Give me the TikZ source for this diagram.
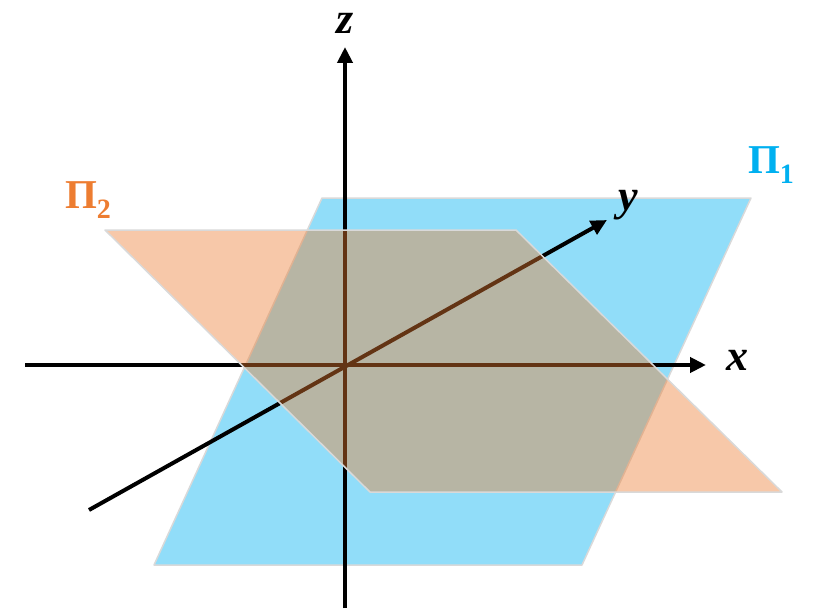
\documentclass[tikz,border=0pt]{standalone}
\usepackage{fontspec}
\setmainfont{Liberation Serif}
\usetikzlibrary{arrows.meta}
\definecolor{piblue}{HTML}{00B0F0}
\definecolor{piorange}{HTML}{ED7D31}
\definecolor{edgegray}{HTML}{D9D9D9}
\newcommand{\planename}[1]{\textbf{Π\raisebox{-0.24em}{\fontsize{28}{28}\selectfont #1}}}

\begin{document}
\begin{tikzpicture}[x=1pt,y=-1pt,
		axis/.style={line width=4pt,-{Triangle[length=16pt,width=15pt]}},
		plane/.style={draw=edgegray,line width=1.5pt,line join=round},
		axlabel/.style={font=\fontsize{44}{44}\selectfont\bfseries\itshape,inner sep=0pt},
		pilabel/.style={font=\fontsize{41}{41}\selectfont,inner sep=0pt}]
			\useasboundingbox (0,0) rectangle (817,610);
			
			% plane Pi_1
			\filldraw[plane, fill=piblue, fill opacity=0.43] (322,198) -- (751,198) -- (582,565) -- (154,565) -- cycle;
			
			% axes
			\coordinate (zlo) at (345,608);
			\coordinate (zhi) at (345,47);
			\coordinate (xlo) at (25,365);
			\coordinate (xhi) at (706,365);
			\coordinate (ylo) at (89,510);
			\coordinate (yhi) at (607,220);
			
			\draw[axis] (zlo) -- (zhi);
			\draw[axis] (xlo) -- (xhi);
			\draw[axis] (ylo) -- (yhi);
			
			\node[axlabel] (zlab) at (345,23) {z};
			\node[axlabel] (xlab) at (737,360) {x};
			\node[axlabel] (ylab) at (628,205) {y};
			
			% plane Pi_2
			\filldraw[plane, fill=piorange, fill opacity=0.42] (105,230) -- (516,230) -- (782,492) -- (370,492) -- cycle;
			
			\node[pilabel, text=piblue] (pione) at (771,165) {\planename{1}};
			\node[pilabel, text=piorange] (pitwo) at (88,200) {\planename{2}};
			
			\end{tikzpicture}
\end{document}
